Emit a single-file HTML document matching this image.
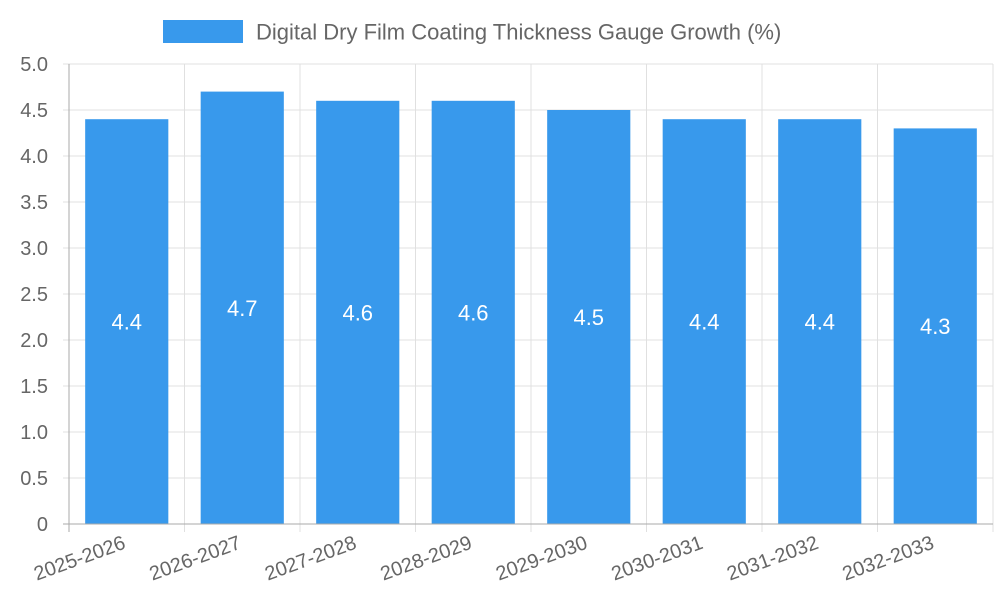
<!DOCTYPE html>
<html><head><meta charset="utf-8"><style>body{margin:0;background:#fff}svg{display:block;font-family:"Liberation Sans",sans-serif}</style></head>
<body>
<svg id="chart" width="1000" height="600" xmlns="http://www.w3.org/2000/svg">
<g>
<rect x="163" y="20" width="80" height="23" fill="#3899ec"/>
<text x="256" y="39.5" font-size="22" fill="#666">Digital Dry Film Coating Thickness Gauge Growth (%)</text>
</g>
<g id="grid"></g>
<g id="bars"></g>
<g id="axes"></g>
</svg>
<script>
const categories = ["2025-2026","2026-2027","2027-2028","2028-2029","2029-2030","2030-2031","2031-2032","2032-2033"];
const values = [4.4,4.7,4.6,4.6,4.5,4.4,4.4,4.3];
const yTicks = [0,0.5,1,1.5,2,2.5,3,3.5,4,4.5,5];
const yTickLabels = ["0","0.5","1.0","1.5","2.0","2.5","3.0","3.5","4.0","4.5","5.0"];
const NS="http://www.w3.org/2000/svg";
const L=69,R=993,T=64,B=524,yMax=5;
const band=(R-L)/categories.length;
const y=v=>B-(v/yMax)*(B-T);
const xc=i=>L+band*(i+0.5);
function mk(tag,attrs,parent,text){const e=document.createElementNS(NS,tag);for(const k in attrs)e.setAttribute(k,attrs[k]);if(text!==undefined)e.textContent=text;parent.appendChild(e);return e;}
const grid=document.getElementById('grid'),bars=document.getElementById('bars'),axes=document.getElementById('axes');
yTicks.forEach((t,i)=>{
  const g=mk('line',{x1:L-6,x2:R,y1:y(t),y2:y(t),stroke:i===0?'#aaa':'#e0e0e0','stroke-width':1},i===0?axes:grid);
  
  
  const tx=mk('text',{x:L-21,y:y(t)+7,'text-anchor':'end','font-size':20,fill:'#666'},axes,yTickLabels[i]);
  
  
});
for(let i=0;i<=categories.length;i++){
  const x=L+band*i;
  const g=mk('line',{x1:x,x2:x,y1:T,y2:B+8,stroke:i===0?'#aaa':'#e0e0e0','stroke-width':1},i===0?axes:grid);
  
  
}
const bw=band*0.72;
categories.forEach((c,i)=>{
  const r=mk('rect',{x:xc(i)-bw/2,y:y(values[i]),width:bw,height:B-y(values[i]),fill:'#3899ec'},bars);
  
  
  const vl=mk('text',{x:xc(i),y:(y(values[i])+B)/2+8,'text-anchor':'middle','font-size':22,fill:'#fff'},bars,values[i].toFixed(1));
  
  
  const xl=mk('text',{x:xc(i),y:B+24,'text-anchor':'end','font-size':20,fill:'#666',transform:`rotate(-20 ${xc(i)} ${B+24})`},axes,c);
  
  
});
</script>
</body></html>
